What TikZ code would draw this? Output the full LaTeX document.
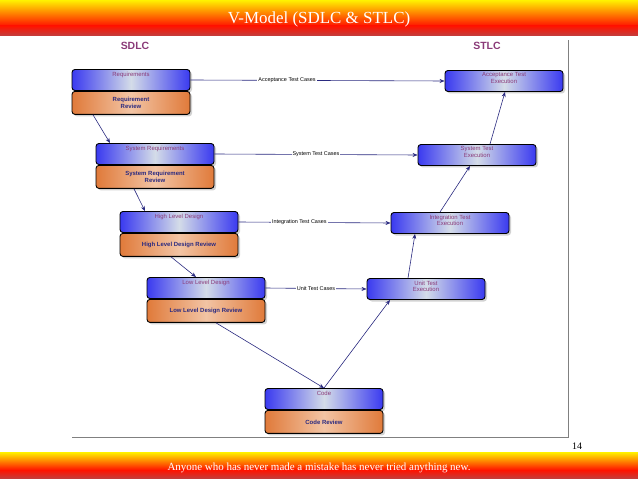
\documentclass[tikz,border=0pt]{standalone}
\usepackage{fontspec}
\setmainfont{Liberation Serif}
\setsansfont{Liberation Sans}
\usetikzlibrary{shadows,arrows.meta}
\definecolor{bl}{HTML}{3A3AF0}
\definecolor{blm}{HTML}{D4DCE8}
\definecolor{orr}{HTML}{E07A3A}
\definecolor{orm}{HTML}{F2C4A4}
\definecolor{ttl}{HTML}{8A3A78}
\definecolor{ln}{HTML}{2A2A80}
\tikzset{
 bbox/.style={draw=black,line width=0.9pt,rounded corners=3pt,left color=bl,right color=bl,middle color=blm,minimum width=118bp,minimum height=21bp,inner sep=0pt,drop shadow={opacity=0.35,shadow xshift=2bp,shadow yshift=-2bp}},
 btxt/.style={anchor=north,inner sep=0pt,yshift=-2.5bp,align=center,font=\sffamily\fontsize{6}{6.5}\selectfont,text=ttl},
 obox/.style={draw=black,line width=0.9pt,rounded corners=3pt,left color=orr,right color=orr,middle color=orm,minimum width=118bp,minimum height=23bp,inner sep=0pt,align=center,font=\sffamily\bfseries\fontsize{6}{6.5}\selectfont,text=ln,drop shadow={opacity=0.35,shadow xshift=2bp,shadow yshift=-2bp}},
 tc/.style={draw=ln,line width=0.6pt,-{Stealth[length=5bp,width=4bp]}},
 lbl/.style={fill=white,inner sep=1pt,font=\sffamily\fontsize{5.5}{6}\selectfont},
 hd/.style={font=\sffamily\bfseries\fontsize{10.5}{12}\selectfont,text=ttl}
}
\begin{document}
\begin{tikzpicture}[x=1bp,y=-1bp]
\useasboundingbox (0,0) rectangle (638,479);
\fill[white] (0,0) rectangle (638,479);
% header
\shade[top color=yellow!90!orange,bottom color=red!85!orange] (0,0) rectangle (638,26);
\shade[top color=red!85!orange,bottom color=red!50!gray] (0,26) rectangle (638,36);
\node[text=white,font=\fontsize{17}{19}\selectfont] (title) at (319,19) {V-Model (SDLC \& STLC)};
% footer
\shade[top color=yellow!90!orange,bottom color=red!85!orange] (0,452) rectangle (638,470);
\shade[top color=red!85!orange,bottom color=red!50!gray] (0,470) rectangle (638,479);
\node[text=white,font=\fontsize{11}{12}\selectfont] (quote) at (319,468) {Anyone who has never made a mistake has never tried anything new.};
\node[font=\fontsize{10}{11}\selectfont] (pg) at (577,446) {14};
% frame
\draw[gray,line width=0.8pt] (72,437) -- (568,437) -- (568,40);
\node[hd] (sdlc) at (135,46) {SDLC};
\node[hd] (stlc) at (487,46) {STLC};
% left
\node[bbox] (r1) at (131,80) {};
\node[btxt] (r1t) at (r1.north) {Requirements};
\node[obox,anchor=north] (r1r) at (r1.south) {Requirement\\Review};
\node[bbox] (r2) at (155,154) {};
\node[btxt] (r2t) at (r2.north) {System Requirements};
\node[obox,anchor=north] (r2r) at (r2.south) {System Requirement\\Review};
\node[bbox] (r3) at (179,222) {};
\node[btxt] (r3t) at (r3.north) {High Level Design};
\node[obox,anchor=north] (r3r) at (r3.south) {High Level Design Review};
\node[bbox] (r4) at (206,288) {};
\node[btxt] (r4t) at (r4.north) {Low Level Design};
\node[obox,anchor=north] (r4r) at (r4.south) {Low Level Design Review};
\node[bbox] (c) at (324,399) {};
\node[btxt] (ct) at (c.north) {Code};
\node[obox,anchor=north] (cr) at (c.south) {Code Review};
% right
\node[bbox] (t1) at (504,81) {};
\node[btxt] (t1t) at (t1.north) {Acceptance Test\\Execution};
\node[bbox] (t2) at (477,155) {};
\node[btxt] (t2t) at (t2.north) {System Test\\Execution};
\node[bbox] (t3) at (450,223) {};
\node[btxt] (t3t) at (t3.north) {Integration Test\\Execution};
\node[bbox] (t4) at (426,289) {};
\node[btxt] (t4t) at (t4.north) {Unit Test\\Execution};
% horizontal
\draw[tc] (r1.east) -- node[lbl,pos=0.38]{Acceptance Test Cases} (t1.west);
\draw[tc] (r2.east) -- node[lbl,pos=0.5]{System Test Cases} (t2.west);
\draw[tc] (r3.east) -- node[lbl,pos=0.4]{Integration Test Cases} (t3.west);
\draw[tc] (r4.east) -- node[lbl,pos=0.5]{Unit Test Cases} (t4.west);
% V arrows
\draw[tc] ([xshift=-38bp]r1r.south) -- ([xshift=-45bp]r2.north);
\draw[tc] ([xshift=-21bp]r2r.south) -- ([xshift=-34bp]r3.north);
\draw[tc] ([xshift=-8bp]r3r.south) -- ([xshift=-10bp]r4.north);
\draw[tc] ([xshift=10bp]r4r.south) -- (c.north);
\draw[tc] (c.north) -- ([xshift=-36bp]t4.south);
\draw[tc] ([xshift=-18bp]t4.north) -- ([xshift=-35bp]t3.south);
\draw[tc] ([xshift=-10bp]t3.north) -- ([xshift=-7bp]t2.south);
\draw[tc] ([xshift=13bp]t2.north) -- ([xshift=1bp]t1.south);
\end{tikzpicture}
\end{document}
